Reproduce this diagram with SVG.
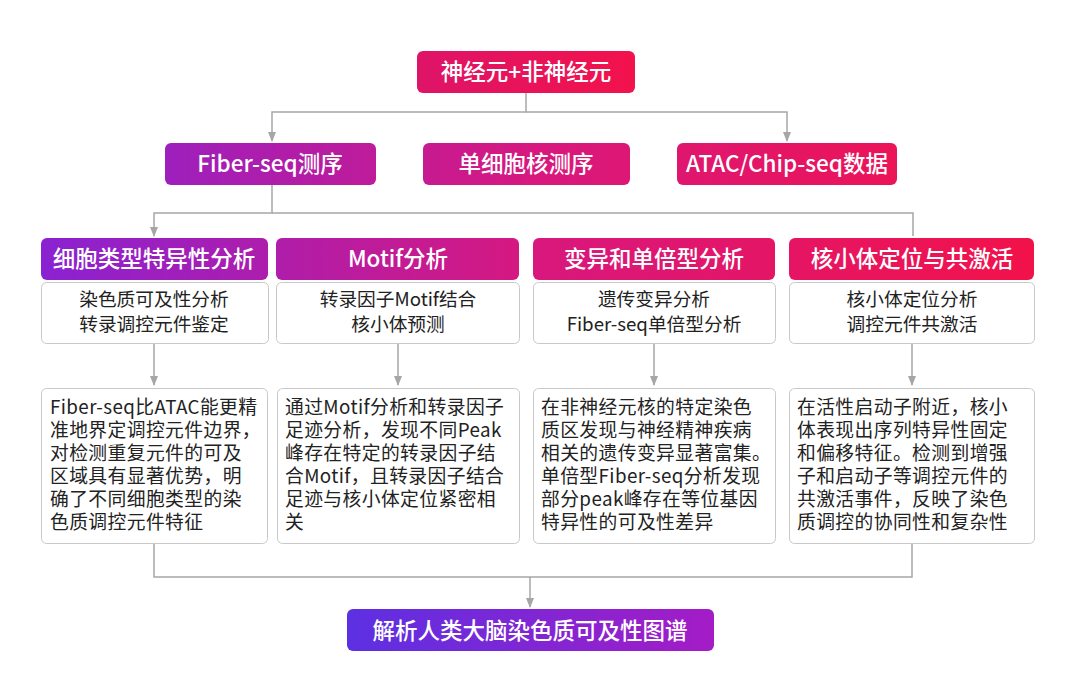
<svg xmlns="http://www.w3.org/2000/svg" width="1080" height="693" viewBox="0 0 1080 693">
<defs>
<linearGradient id="g" gradientUnits="userSpaceOnUse" x1="40" y1="0" x2="1035" y2="0"><stop offset="0" stop-color="#8a22d2"/><stop offset="0.5" stop-color="#d8187e"/><stop offset="1" stop-color="#f2124a"/></linearGradient>
<linearGradient id="gt" x1="0" y1="0" x2="1" y2="0"><stop offset="0" stop-color="#de1468"/><stop offset="1" stop-color="#f2124c"/></linearGradient>
<linearGradient id="gf" x1="0" y1="0" x2="1" y2="0"><stop offset="0" stop-color="#5c30e2"/><stop offset="1" stop-color="#a41cc6"/></linearGradient>
<marker id="a" markerWidth="10" markerHeight="8" refX="9" refY="4" orient="auto" markerUnits="userSpaceOnUse"><path d="M0,0 L10,4 L0,8 Z" fill="#a6a6a6"/></marker>
<style>
.h{fill:url(#g)}
.t{font-family:"Noto Sans CJK SC","Noto Sans",sans-serif;fill:#fff;font-size:22.5px;font-weight:500;text-anchor:middle}
.s{fill:#fff;stroke:#c8c8c8;stroke-width:1}
.b{font-family:"Noto Sans CJK SC","Noto Sans",sans-serif;fill:#222;font-size:18.8px;letter-spacing:0.4px}
.m{font-family:"Noto Sans CJK SC","Noto Sans",sans-serif;fill:#222;font-size:18.7px;text-anchor:middle}
.l{fill:none;stroke:#a6a6a6;stroke-width:1.5}
</style>
</defs>
<rect width="1080" height="693" fill="#fff"/>
<g id="connectors">
<path class="l" d="M526,93 V112 H272 V141" marker-end="url(#a)"/>
<path class="l" d="M526,112 H787 V141" marker-end="url(#a)"/>
<path class="l" d="M272,185 V213 H154 V236" marker-end="url(#a)"/>
<path class="l" d="M272,213 H913 V236"/>
<path class="l" d="M154,343 V385" marker-end="url(#a)"/>
<path class="l" d="M398,343 V385" marker-end="url(#a)"/>
<path class="l" d="M654,343 V385" marker-end="url(#a)"/>
<path class="l" d="M912,343 V385" marker-end="url(#a)"/>
<path class="l" d="M154,544 V577 H912 V544"/>
<path class="l" d="M530,577 V607" marker-end="url(#a)"/>
</g>
<g id="top"><rect fill="url(#gt)" x="417" y="51" width="218" height="42" rx="6"/><text class="t" x="526" y="80">神经元+非神经元</text></g>
<g id="fiber"><rect class="h" x="165" y="143" width="211" height="42" rx="6"/><text class="t" x="270" y="172">Fiber-seq测序</text></g>
<g id="sn"><rect class="h" x="423" y="143" width="207" height="42" rx="6"/><text class="t" x="526" y="172">单细胞核测序</text></g>
<g id="atac"><rect class="h" x="677" y="143" width="220" height="42" rx="6"/><text class="t" x="787" y="172">ATAC/Chip-seq数据</text></g>
<g id="c1">
<rect class="h" x="41" y="238" width="227" height="42" rx="6"/><text class="t" x="154" y="267">细胞类型特异性分析</text>
<rect class="s" x="41.5" y="282.5" width="227" height="61" rx="5"/>
<text class="m"><tspan x="154" y="306">染色质可及性分析</tspan><tspan x="154" y="331">转录调控元件鉴定</tspan></text>
<rect class="s" x="41.5" y="388.5" width="226" height="155" rx="5"/>
<text class="b"><tspan x="50" y="414">Fiber-seq比ATAC能更精</tspan><tspan x="50" y="437">准地界定调控元件边界，</tspan><tspan x="50" y="460">对检测重复元件的可及</tspan><tspan x="50" y="483">区域具有显著优势，明</tspan><tspan x="50" y="506">确了不同细胞类型的染</tspan><tspan x="50" y="529">色质调控元件特征</tspan></text>
</g>
<g id="c2">
<rect class="h" x="276" y="238" width="243" height="42" rx="6"/><text class="t" x="398" y="267">Motif分析</text>
<rect class="s" x="276.5" y="282.5" width="243" height="61" rx="5"/>
<text class="m"><tspan x="398" y="306">转录因子Motif结合</tspan><tspan x="398" y="331">核小体预测</tspan></text>
<rect class="s" x="277.5" y="388.5" width="242" height="155" rx="5"/>
<text class="b"><tspan x="285" y="414">通过Motif分析和转录因子</tspan><tspan x="285" y="437">足迹分析，发现不同Peak</tspan><tspan x="285" y="460">峰存在特定的转录因子结</tspan><tspan x="285" y="483">合Motif，且转录因子结合</tspan><tspan x="285" y="506">足迹与核小体定位紧密相</tspan><tspan x="285" y="529">关</tspan></text>
</g>
<g id="c3">
<rect class="h" x="533" y="238" width="242" height="42" rx="6"/><text class="t" x="654" y="267">变异和单倍型分析</text>
<rect class="s" x="533.5" y="282.5" width="242" height="61" rx="5"/>
<text class="m"><tspan x="654" y="306">遗传变异分析</tspan><tspan x="654" y="331">Fiber-seq单倍型分析</tspan></text>
<rect class="s" x="533.5" y="388.5" width="242" height="155" rx="5"/>
<text class="b"><tspan x="541" y="414">在非神经元核的特定染色</tspan><tspan x="541" y="437">质区发现与神经精神疾病</tspan><tspan x="541" y="460">相关的遗传变异显著富集。</tspan><tspan x="541" y="483">单倍型Fiber-seq分析发现</tspan><tspan x="541" y="506">部分peak峰存在等位基因</tspan><tspan x="541" y="529">特异性的可及性差异</tspan></text>
</g>
<g id="c4">
<rect class="h" x="789" y="238" width="245" height="42" rx="6"/><text class="t" x="912" y="267">核小体定位与共激活</text>
<rect class="s" x="789.5" y="282.5" width="245" height="61" rx="5"/>
<text class="m"><tspan x="912" y="306">核小体定位分析</tspan><tspan x="912" y="331">调控元件共激活</tspan></text>
<rect class="s" x="789.5" y="388.5" width="245" height="155" rx="5"/>
<text class="b"><tspan x="797" y="414">在活性启动子附近，核小</tspan><tspan x="797" y="437">体表现出序列特异性固定</tspan><tspan x="797" y="460">和偏移特征。检测到增强</tspan><tspan x="797" y="483">子和启动子等调控元件的</tspan><tspan x="797" y="506">共激活事件，反映了染色</tspan><tspan x="797" y="529">质调控的协同性和复杂性</tspan></text>
</g>
<g id="final"><rect fill="url(#gf)" x="347" y="609" width="367" height="42" rx="6"/><text class="t" x="530" y="639">解析人类大脑染色质可及性图谱</text></g>
</svg>
